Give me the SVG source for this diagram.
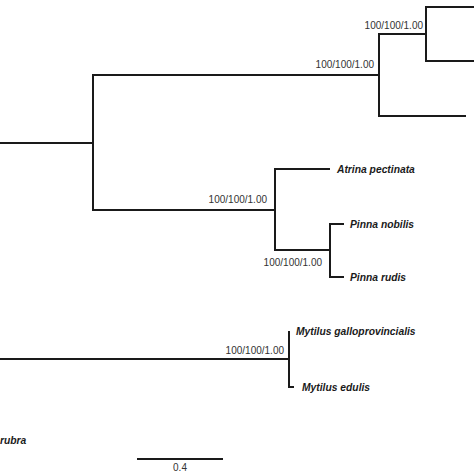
<svg xmlns="http://www.w3.org/2000/svg" width="474" height="474" viewBox="0 0 474 474">
<style>
.br{fill:none;stroke:#1a1a1a;stroke-width:2;stroke-linecap:square}
.sup{font-family:"Liberation Sans",Arial,sans-serif;font-size:10px;fill:#333;text-anchor:end}
.tx{font-family:"Liberation Sans",Arial,sans-serif;font-size:10.3px;font-weight:bold;font-style:italic;fill:#1a1a1a}
.sc{font-family:"Liberation Sans",Arial,sans-serif;font-size:10px;fill:#333;text-anchor:middle}
</style>
<rect width="474" height="474" fill="#fff"/>
<g id="connectors">
<path class="br" d="M0,143H93M93,75V210M93,75H379M379,34V116M379,34H426M426,7V61M426,7H474M426,61H474M379,116H465"/>
<path class="br" d="M93,210H275M275,169V250M275,169H329M275,250H330M330,224V277M330,224H343M330,277H343"/>
<path class="br" d="M0,359H289M289,332V387M289,387H293"/>
</g>
<g id="support-labels">
<text class="sup" x="423" y="29">100/100/1.00</text>
<text class="sup" x="374" y="68">100/100/1.00</text>
<text class="sup" x="267" y="203">100/100/1.00</text>
<text class="sup" x="322" y="266">100/100/1.00</text>
<text class="sup" x="284" y="354">100/100/1.00</text>
</g>
<g id="taxon-atrina"><text class="tx" x="337" y="173">Atrina pectinata</text></g>
<g id="taxon-pinna-nobilis"><text class="tx" x="350" y="228">Pinna nobilis</text></g>
<g id="taxon-pinna-rudis"><text class="tx" x="350" y="281">Pinna rudis</text></g>
<g id="taxon-mytilus-gallo"><text class="tx" x="296" y="335">Mytilus galloprovincialis</text></g>
<g id="taxon-mytilus-edulis"><text class="tx" x="302" y="391">Mytilus edulis</text></g>
<g id="taxon-rubra"><text class="tx" x="0" y="444">rubra</text></g>
<g id="scale-bar">
<path class="br" d="M138,459H222"/>
<text class="sc" x="180" y="471">0.4</text>
</g>
</svg>
